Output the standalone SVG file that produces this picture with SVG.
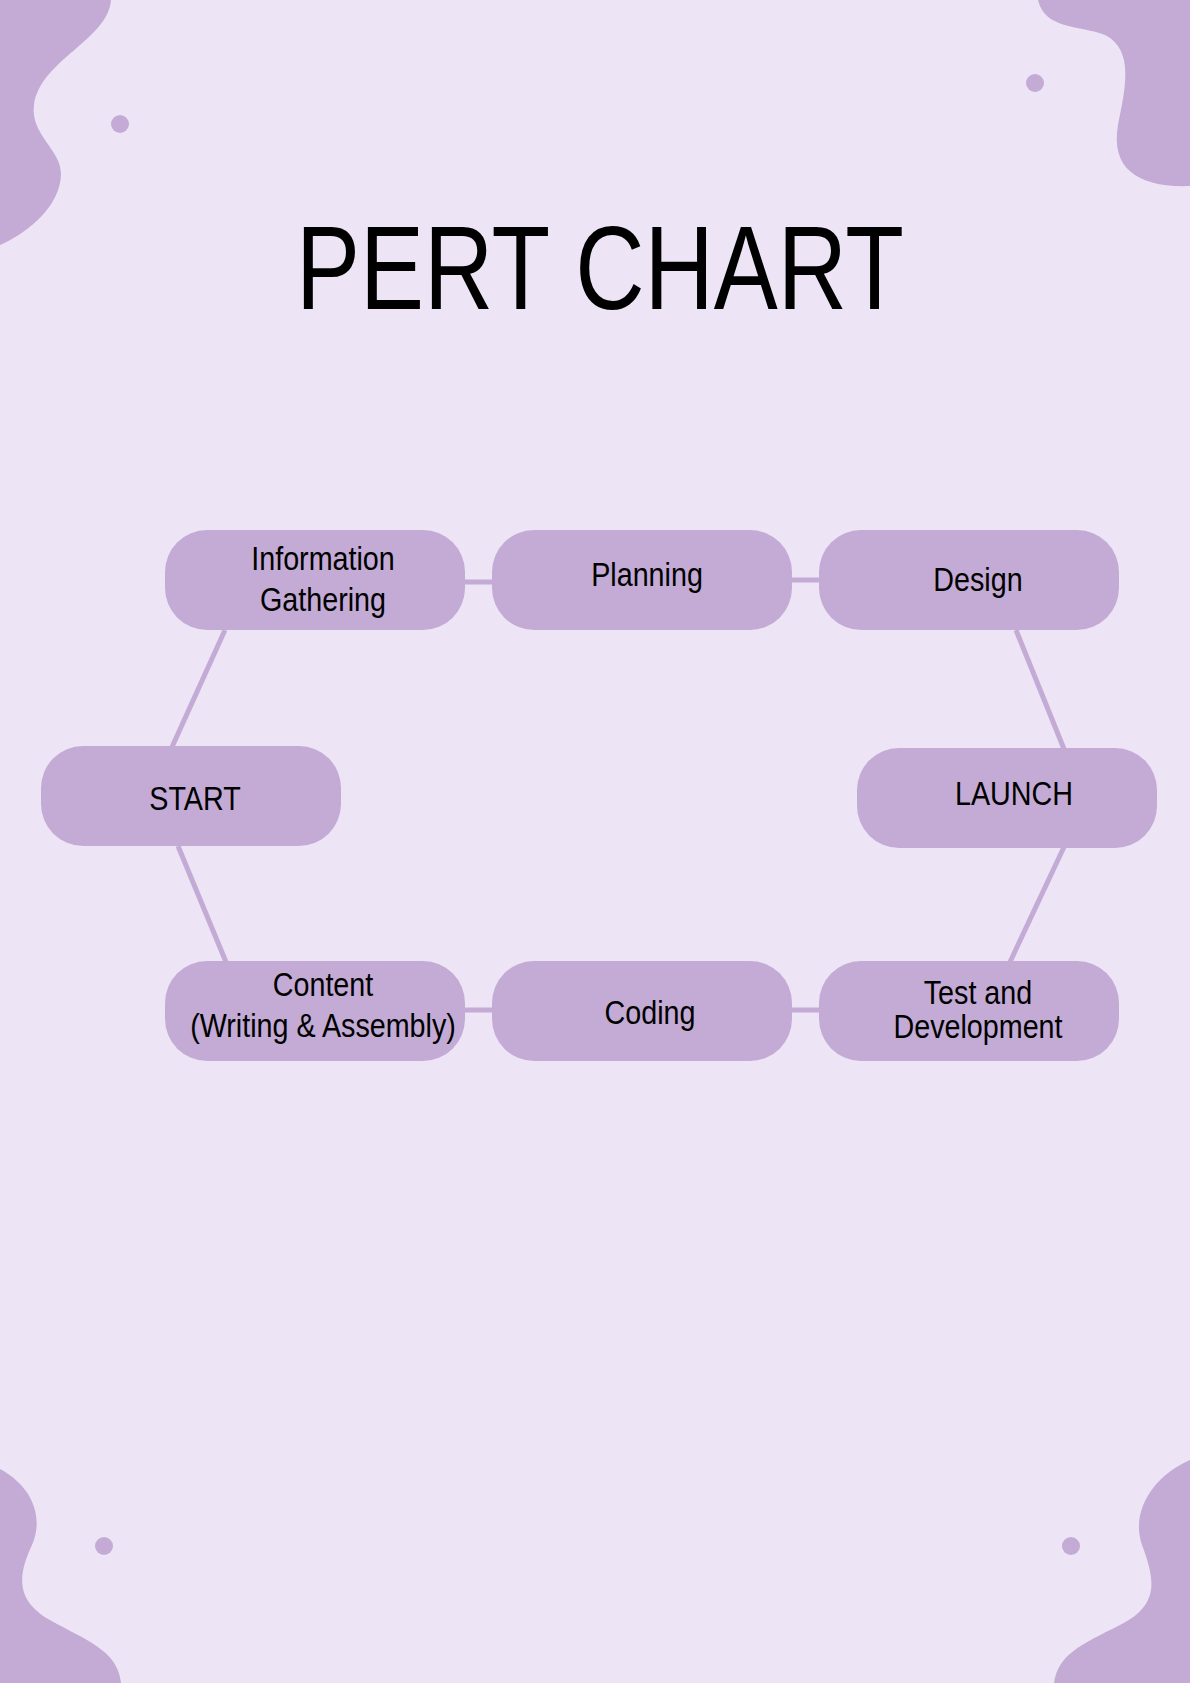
<svg xmlns="http://www.w3.org/2000/svg" width="1190" height="1683" viewBox="0 0 1190 1683">
<style>
.bg{fill:#EDE5F5}
.deco{fill:#C3ABD5}
.node{fill:#C3ABD5}
.lbl{font-family:"Liberation Sans",sans-serif;font-size:33px;fill:#000;text-anchor:middle;dominant-baseline:central}
.edge{stroke:#C3ABD5;stroke-width:5;fill:none}
</style>
<rect class="bg" width="1190" height="1683"/>
<path class="deco" d="M0 0 H111 C108 40 40 60 34 105 C30 135 62 150 61 175 C60 205 30 232 0 245 Z"/>
<path class="deco" d="M1038 0 C1045 30 1080 25 1105 35 C1135 50 1125 90 1118 125 C1110 170 1140 188 1190 186 V0 Z"/>
<path class="deco" d="M0 1469 C30 1485 45 1515 32 1545 C18 1575 15 1600 50 1620 C85 1640 118 1650 121 1683 H0 Z"/>
<path class="deco" d="M1190 1460 C1155 1475 1130 1510 1142 1545 C1155 1580 1160 1605 1120 1625 C1080 1645 1058 1655 1054 1683 H1190 Z"/>
<circle class="deco" cx="120" cy="124" r="9"/>
<circle class="deco" cx="1035" cy="83" r="9"/>
<circle class="deco" cx="104" cy="1546" r="9"/>
<circle class="deco" cx="1071" cy="1546" r="9"/>
<text x="600" y="309" font-family="Liberation Sans, sans-serif" font-size="118" text-anchor="middle" fill="#000" textLength="608" lengthAdjust="spacingAndGlyphs">PERT CHART</text>
<g id="connectors">
<line class="edge" x1="465" y1="582" x2="492" y2="582"/>
<line class="edge" x1="792" y1="580" x2="819" y2="580"/>
<line class="edge" x1="465" y1="1010" x2="492" y2="1010"/>
<line class="edge" x1="792" y1="1010" x2="819" y2="1010"/>
<line class="edge" x1="225" y1="630" x2="172" y2="747"/>
<line class="edge" x1="178" y1="846" x2="226" y2="962"/>
<line class="edge" x1="1016" y1="630" x2="1064" y2="749"/>
<line class="edge" x1="1064" y1="847" x2="1010" y2="962"/>
</g>
<g id="info"><rect class="node" x="165" y="530" width="300" height="100" rx="42"/><text class="lbl" transform="translate(323 559) scale(0.87 1)">Information</text><text class="lbl" transform="translate(323 600) scale(0.87 1)">Gathering</text></g>
<g id="planning"><rect class="node" x="492" y="530" width="300" height="100" rx="42"/><text class="lbl" transform="translate(647 575) scale(0.87 1)">Planning</text></g>
<g id="design"><rect class="node" x="819" y="530" width="300" height="100" rx="42"/><text class="lbl" transform="translate(978 580) scale(0.87 1)">Design</text></g>
<g id="start"><rect class="node" x="41" y="746" width="300" height="100" rx="42"/><text class="lbl" transform="translate(195 799) scale(0.87 1)">START</text></g>
<g id="launch"><rect class="node" x="857" y="748" width="300" height="100" rx="42"/><text class="lbl" transform="translate(1014 794) scale(0.87 1)">LAUNCH</text></g>
<g id="content"><rect class="node" x="165" y="961" width="300" height="100" rx="42"/><text class="lbl" transform="translate(323 985) scale(0.87 1)">Content</text><text class="lbl" transform="translate(323 1026) scale(0.87 1)">(Writing &amp; Assembly)</text></g>
<g id="coding"><rect class="node" x="492" y="961" width="300" height="100" rx="42"/><text class="lbl" transform="translate(650 1013) scale(0.87 1)">Coding</text></g>
<g id="test"><rect class="node" x="819" y="961" width="300" height="100" rx="42"/><text class="lbl" transform="translate(978 993) scale(0.87 1)">Test and</text><text class="lbl" transform="translate(978 1027) scale(0.87 1)">Development</text></g>
</svg>
